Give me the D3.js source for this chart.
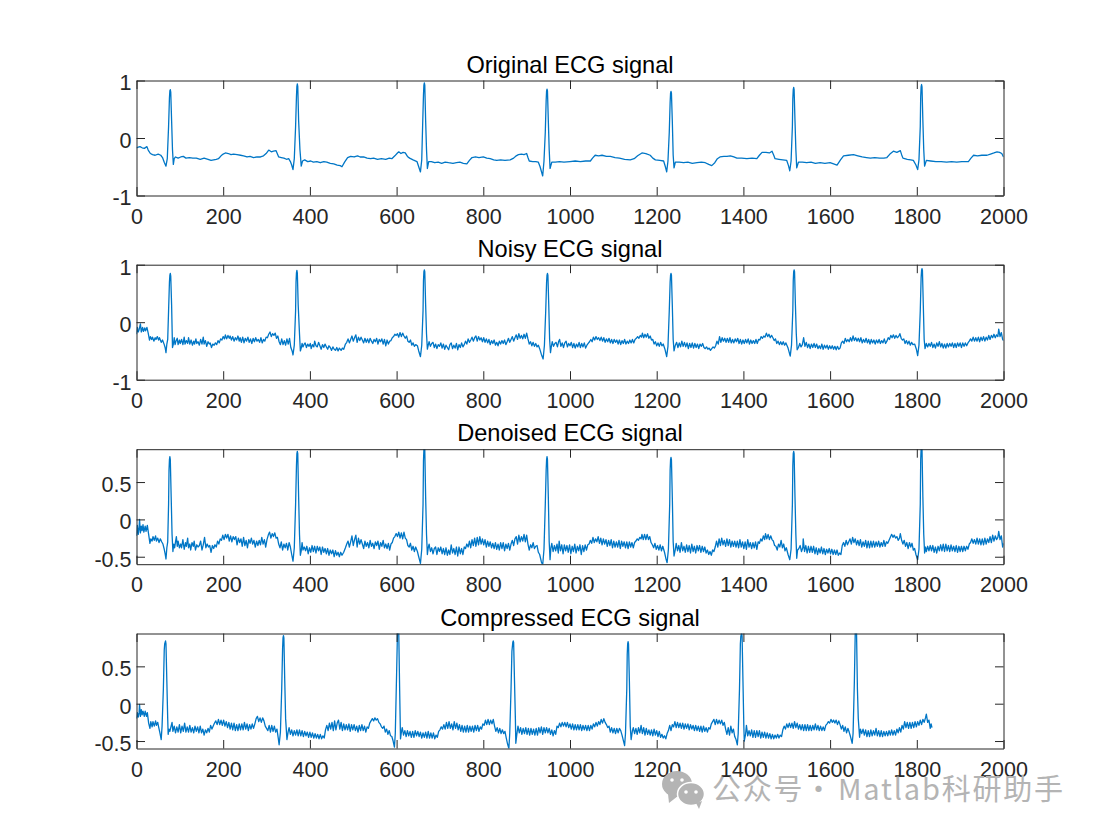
<!DOCTYPE html>
<html>
<head>
<meta charset="utf-8">
<script src="https://cdn.jsdelivr.net/npm/d3@7"></script>
<style>
  html, body { margin: 0; padding: 0; background: #fff; }
  svg { display: block; }
  text { font-family: "Liberation Sans", Arial, sans-serif; }
</style>
</head>
<body>
<div id="app"></div>
<script>
// x ticks are the same on all four panels
const xTicks = [0, 200, 400, 600, 800, 1000, 1200, 1400, 1600, 1800, 2000];
const yTicksWide = [-1, 0, 1];
const yTicksNarrow = [-0.5, 0, 0.5];
const titles = ['Original ECG signal', 'Noisy ECG signal', 'Denoised ECG signal', 'Compressed ECG signal'];

// [sample, amplitude] pairs
const original = [[0,-.17],[4,-.16],[8,-.15],[13,-.17],[18,-.18],[24,-.15],[27,-.21],[32,-.27],[37,-.29],[43,-.3],[50,-.28],[56,-.3],[60,-.34],[64,-.42],[68,-.49],[71,-.36],[74,.2],[76,.7],[77,.82],[78,.84],[79,.8],[81,.3],[83,-.2],[85,-.46],[87,-.36],[90,-.33],[96,-.35],[102,-.33],[108,-.32],[114,-.35],[122,-.34],[130,-.35],[138,-.35],[147,-.37],[156,-.35],[165,-.37],[172,-.39],[178,-.38],[184,-.37],[189,-.36],[195,-.31],[200,-.28],[205,-.26],[212,-.27],[218,-.29],[224,-.28],[232,-.29],[240,-.3],[247,-.31],[255,-.33],[262,-.32],[270,-.34],[278,-.33],[286,-.33],[293,-.31],[299,-.27],[305,-.21],[311,-.24],[316,-.23],[322,-.22],[328,-.33],[334,-.34],[340,-.35],[346,-.37],[351,-.36],[355,-.41],[358,-.47],[361,-.55],[364,-.36],[367,.2],[369,.72],[370,.9],[371,.94],[372,.9],[374,.3],[377,-.2],[380,-.49],[383,-.4],[388,-.38],[395,-.41],[402,-.4],[408,-.42],[416,-.41],[424,-.43],[432,-.41],[439,-.42],[447,-.44],[455,-.45],[463,-.47],[470,-.48],[474,-.5],[480,-.42],[487,-.34],[494,-.32],[502,-.33],[510,-.31],[516,-.33],[524,-.33],[532,-.35],[540,-.36],[547,-.35],[556,-.37],[565,-.36],[575,-.37],[583,-.35],[589,-.36],[596,-.31],[602,-.26],[605,-.24],[610,-.27],[615,-.25],[620,-.26],[625,-.32],[630,-.35],[638,-.38],[647,-.41],[651,-.5],[655,-.59],[658,-.38],[660,.2],[662,.75],[663,.92],[664,.96],[665,.92],[667,.3],[669,-.2],[671,-.53],[674,-.41],[680,-.41],[688,-.43],[696,-.42],[704,-.44],[712,-.42],[720,-.43],[730,-.44],[738,-.43],[746,-.42],[754,-.44],[762,-.45],[768,-.39],[774,-.34],[782,-.33],[790,-.34],[800,-.33],[808,-.35],[816,-.36],[824,-.38],[831,-.39],[840,-.38],[850,-.39],[862,-.38],[870,-.35],[876,-.31],[881,-.29],[888,-.28],[894,-.29],[900,-.27],[903,-.34],[906,-.4],[914,-.41],[921,-.41],[927,-.42],[931,-.5],[937,-.66],[940,-.4],[943,.1],[945,.65],[946,.82],[947,.85],[948,.82],[950,.3],[952,-.2],[954,-.53],[958,-.42],[966,-.42],[976,-.41],[986,-.42],[1000,-.41],[1012,-.4],[1024,-.41],[1036,-.4],[1047,-.4],[1052,-.35],[1058,-.3],[1066,-.31],[1074,-.3],[1084,-.32],[1093,-.32],[1104,-.34],[1114,-.35],[1126,-.37],[1139,-.38],[1148,-.36],[1156,-.31],[1166,-.26],[1175,-.27],[1185,-.3],[1191,-.35],[1197,-.38],[1207,-.39],[1216,-.4],[1220,-.5],[1223,-.59],[1226,-.4],[1229,.1],[1231,.62],[1232,.78],[1233,.81],[1234,.78],[1236,.3],[1238,-.3],[1240,-.52],[1243,-.42],[1252,-.42],[1262,-.43],[1272,-.42],[1282,-.44],[1293,-.43],[1303,-.42],[1312,-.43],[1320,-.46],[1327,-.48],[1334,-.43],[1340,-.36],[1346,-.33],[1355,-.32],[1362,-.32],[1370,-.31],[1378,-.33],[1385,-.35],[1396,-.35],[1408,-.36],[1420,-.35],[1431,-.36],[1437,-.3],[1443,-.25],[1452,-.25],[1460,-.26],[1466,-.23],[1470,-.3],[1473,-.36],[1482,-.37],[1491,-.38],[1500,-.39],[1504,-.48],[1507,-.57],[1510,-.4],[1513,.2],[1514,.68],[1515,.84],[1516,.88],[1517,.84],[1519,.3],[1521,-.2],[1523,-.52],[1527,-.42],[1536,-.42],[1546,-.43],[1556,-.42],[1566,-.44],[1577,-.43],[1588,-.44],[1600,-.43],[1608,-.45],[1616,-.47],[1624,-.38],[1631,-.31],[1642,-.3],[1654,-.29],[1664,-.31],[1674,-.33],[1684,-.34],[1693,-.35],[1703,-.34],[1714,-.35],[1724,-.35],[1731,-.34],[1738,-.28],[1746,-.23],[1754,-.25],[1762,-.22],[1765,-.29],[1768,-.35],[1778,-.37],[1786,-.38],[1792,-.39],[1798,-.47],[1802,-.55],[1805,-.38],[1808,.2],[1809,.72],[1810,.89],[1811,.93],[1812,.89],[1814,.3],[1816,-.2],[1818,-.49],[1822,-.39],[1832,-.4],[1844,-.41],[1856,-.41],[1869,-.42],[1880,-.41],[1892,-.42],[1904,-.41],[1919,-.41],[1925,-.35],[1931,-.3],[1940,-.31],[1950,-.3],[1962,-.3],[1970,-.28],[1978,-.26],[1985,-.24],[1991,-.25],[1996,-.27],[2000,-.33]];

const noisy = [[0,-.21],[2,-.09],[4,-.17],[6,-.13],[9,-.03],[11,-.17],[14,-.09],[16,-.16],[19,-.1],[21,-.15],[24,-.09],[27,-.19],[30,-.31],[32,-.25],[35,-.3],[37,-.26],[40,-.33],[43,-.27],[45,-.3],[48,-.25],[51,-.31],[53,-.27],[57,-.35],[60,-.31],[64,-.39],[66,-.44],[68,-.53],[70,-.38],[72,-.3],[74,.2],[76,.7],[77,.82],[78,.85],[79,.8],[81,.3],[83,-.44],[85,-.38],[87,-.27],[89,-.39],[91,-.33],[94,-.28],[96,-.39],[99,-.31],[101,-.37],[104,-.3],[107,-.39],[110,-.26],[112,-.38],[115,-.32],[118,-.37],[120,-.27],[123,-.38],[126,-.31],[129,-.4],[132,-.33],[134,-.38],[137,-.29],[139,-.37],[142,-.34],[145,-.4],[148,-.3],[151,-.38],[154,-.26],[156,-.38],[159,-.32],[162,-.42],[165,-.34],[168,-.38],[170,-.36],[173,-.44],[176,-.38],[179,-.4],[182,-.36],[185,-.39],[188,-.32],[191,-.36],[194,-.29],[197,-.31],[200,-.25],[203,-.29],[205,-.22],[208,-.29],[211,-.23],[214,-.28],[216,-.24],[219,-.31],[222,-.25],[225,-.33],[228,-.27],[231,-.31],[234,-.24],[237,-.33],[239,-.27],[242,-.35],[245,-.26],[248,-.36],[251,-.28],[254,-.33],[257,-.26],[260,-.35],[263,-.29],[266,-.37],[269,-.28],[272,-.34],[275,-.27],[278,-.33],[281,-.3],[284,-.35],[287,-.27],[290,-.36],[293,-.3],[296,-.33],[299,-.26],[302,-.27],[305,-.21],[308,-.17],[311,-.25],[314,-.2],[317,-.23],[320,-.19],[323,-.28],[326,-.24],[329,-.34],[332,-.39],[335,-.29],[338,-.39],[341,-.32],[344,-.4],[347,-.29],[350,-.38],[353,-.28],[356,-.44],[359,-.5],[361,-.57],[364,-.4],[367,.2],[368,.7],[369,.86],[370,.9],[371,.86],[373,.3],[376,-.2],[378,-.5],[380,-.45],[382,-.37],[384,-.43],[387,-.38],[389,-.36],[392,-.44],[395,-.38],[398,-.42],[401,-.37],[403,-.46],[406,-.39],[409,-.43],[411,-.33],[414,-.41],[417,-.43],[420,-.35],[423,-.41],[426,-.47],[429,-.39],[432,-.44],[435,-.38],[438,-.43],[441,-.47],[444,-.41],[447,-.44],[450,-.49],[453,-.43],[456,-.47],[459,-.49],[462,-.44],[465,-.5],[468,-.45],[472,-.49],[475,-.45],[478,-.47],[482,-.38],[485,-.35],[488,-.29],[491,-.36],[494,-.3],[497,-.24],[500,-.33],[503,-.27],[506,-.22],[509,-.35],[512,-.26],[515,-.32],[518,-.26],[521,-.31],[524,-.36],[527,-.28],[530,-.35],[533,-.29],[536,-.36],[539,-.28],[542,-.33],[545,-.37],[548,-.3],[551,-.34],[554,-.28],[557,-.38],[560,-.3],[563,-.34],[566,-.29],[569,-.38],[572,-.3],[575,-.41],[578,-.31],[581,-.38],[584,-.33],[587,-.32],[590,-.27],[593,-.25],[596,-.21],[599,-.23],[602,-.2],[605,-.26],[608,-.18],[611,-.25],[614,-.19],[617,-.24],[620,-.28],[623,-.24],[626,-.33],[629,-.35],[632,-.31],[635,-.4],[638,-.36],[641,-.42],[644,-.39],[648,-.41],[651,-.5],[655,-.6],[658,-.4],[661,.2],[662,.72],[663,.88],[664,.91],[665,.88],[667,.3],[669,-.2],[671,-.47],[673,-.4],[675,-.34],[678,-.42],[681,-.37],[684,-.35],[687,-.44],[690,-.38],[693,-.46],[696,-.39],[699,-.42],[702,-.36],[705,-.45],[708,-.38],[711,-.47],[714,-.4],[717,-.44],[720,-.48],[723,-.39],[726,-.36],[729,-.46],[732,-.4],[735,-.45],[738,-.37],[741,-.48],[744,-.39],[747,-.44],[750,-.36],[753,-.43],[756,-.39],[759,-.33],[762,-.38],[765,-.29],[768,-.35],[771,-.31],[774,-.26],[777,-.33],[780,-.27],[783,-.24],[786,-.33],[789,-.25],[792,-.31],[795,-.27],[798,-.34],[801,-.27],[804,-.35],[807,-.29],[810,-.36],[813,-.3],[816,-.39],[819,-.32],[822,-.37],[825,-.31],[828,-.4],[831,-.35],[834,-.41],[837,-.33],[840,-.38],[843,-.32],[846,-.37],[849,-.31],[852,-.39],[855,-.34],[858,-.28],[861,-.35],[864,-.3],[867,-.25],[870,-.33],[873,-.27],[876,-.22],[879,-.3],[882,-.2],[885,-.28],[888,-.23],[891,-.29],[894,-.21],[897,-.28],[900,-.19],[903,-.29],[906,-.38],[909,-.34],[912,-.41],[915,-.35],[918,-.42],[921,-.37],[924,-.43],[927,-.4],[930,-.46],[934,-.56],[938,-.64],[941,-.4],[944,.2],[946,.7],[947,.82],[948,.85],[949,.82],[951,.3],[953,-.3],[955,-.53],[957,-.42],[959,-.34],[962,-.42],[965,-.37],[968,-.35],[971,-.43],[974,-.33],[976,-.3],[979,-.42],[982,-.36],[985,-.44],[988,-.36],[991,-.33],[994,-.43],[997,-.37],[1000,-.41],[1003,-.35],[1006,-.44],[1009,-.37],[1012,-.45],[1015,-.38],[1018,-.43],[1021,-.35],[1024,-.44],[1027,-.37],[1030,-.43],[1033,-.36],[1036,-.45],[1039,-.4],[1042,-.37],[1045,-.34],[1048,-.3],[1051,-.34],[1054,-.26],[1057,-.31],[1060,-.25],[1063,-.3],[1066,-.27],[1069,-.32],[1072,-.26],[1075,-.33],[1078,-.27],[1081,-.35],[1084,-.29],[1087,-.34],[1090,-.28],[1093,-.36],[1096,-.3],[1099,-.37],[1102,-.3],[1105,-.35],[1108,-.31],[1111,-.38],[1114,-.31],[1117,-.39],[1120,-.32],[1123,-.37],[1126,-.3],[1129,-.38],[1132,-.33],[1135,-.37],[1138,-.31],[1141,-.36],[1144,-.3],[1147,-.36],[1150,-.3],[1153,-.28],[1156,-.25],[1159,-.28],[1162,-.23],[1165,-.26],[1167,-.19],[1170,-.27],[1173,-.21],[1176,-.26],[1179,-.2],[1182,-.28],[1185,-.24],[1188,-.31],[1191,-.3],[1194,-.38],[1197,-.34],[1200,-.41],[1203,-.36],[1206,-.42],[1209,-.35],[1212,-.41],[1215,-.38],[1219,-.47],[1223,-.6],[1226,-.42],[1229,.2],[1231,.7],[1232,.82],[1233,.85],[1234,.82],[1236,.3],[1238,-.3],[1240,-.5],[1243,-.4],[1246,-.35],[1249,-.44],[1252,-.36],[1255,-.43],[1258,-.33],[1261,-.42],[1264,-.35],[1267,-.43],[1270,-.36],[1273,-.46],[1276,-.37],[1279,-.44],[1282,-.36],[1285,-.45],[1288,-.37],[1291,-.44],[1294,-.38],[1297,-.46],[1300,-.38],[1303,-.42],[1306,-.37],[1309,-.44],[1312,-.46],[1315,-.43],[1318,-.47],[1321,-.45],[1324,-.49],[1327,-.46],[1330,-.43],[1333,-.45],[1336,-.41],[1339,-.33],[1342,-.38],[1345,-.25],[1348,-.35],[1351,-.27],[1354,-.33],[1357,-.28],[1360,-.35],[1363,-.28],[1366,-.35],[1369,-.27],[1372,-.36],[1375,-.3],[1378,-.36],[1381,-.29],[1384,-.34],[1387,-.28],[1390,-.37],[1393,-.3],[1396,-.38],[1399,-.31],[1402,-.37],[1405,-.3],[1408,-.36],[1411,-.29],[1414,-.38],[1417,-.31],[1420,-.37],[1423,-.32],[1426,-.37],[1429,-.3],[1432,-.37],[1435,-.3],[1438,-.31],[1441,-.25],[1444,-.28],[1447,-.24],[1450,-.26],[1453,-.19],[1456,-.25],[1459,-.21],[1462,-.27],[1465,-.23],[1468,-.27],[1471,-.32],[1474,-.29],[1477,-.37],[1480,-.33],[1483,-.39],[1486,-.34],[1489,-.39],[1492,-.34],[1495,-.4],[1498,-.36],[1503,-.45],[1508,-.59],[1511,-.4],[1514,.2],[1515,.72],[1516,.88],[1517,.91],[1518,.88],[1520,.3],[1522,-.2],[1524,-.48],[1527,-.44],[1530,-.37],[1533,-.43],[1536,-.39],[1539,-.27],[1542,-.42],[1545,-.35],[1548,-.44],[1551,-.38],[1554,-.46],[1557,-.38],[1560,-.44],[1563,-.37],[1566,-.44],[1569,-.38],[1572,-.46],[1575,-.41],[1578,-.46],[1581,-.38],[1584,-.47],[1587,-.4],[1590,-.45],[1593,-.4],[1596,-.47],[1599,-.41],[1602,-.46],[1605,-.41],[1608,-.47],[1611,-.42],[1614,-.48],[1617,-.42],[1620,-.47],[1623,-.45],[1626,-.36],[1629,-.33],[1632,-.37],[1635,-.28],[1638,-.34],[1641,-.3],[1644,-.34],[1647,-.27],[1650,-.33],[1653,-.24],[1656,-.32],[1659,-.27],[1662,-.33],[1665,-.28],[1668,-.34],[1671,-.27],[1674,-.36],[1677,-.3],[1680,-.35],[1683,-.28],[1686,-.36],[1689,-.3],[1692,-.38],[1695,-.3],[1698,-.36],[1701,-.31],[1704,-.38],[1707,-.31],[1710,-.36],[1713,-.3],[1716,-.37],[1719,-.32],[1722,-.36],[1725,-.29],[1728,-.37],[1731,-.33],[1734,-.27],[1737,-.3],[1740,-.23],[1743,-.27],[1746,-.22],[1749,-.28],[1752,-.23],[1755,-.27],[1758,-.25],[1761,-.2],[1764,-.28],[1767,-.31],[1770,-.29],[1773,-.37],[1776,-.32],[1779,-.38],[1782,-.33],[1785,-.4],[1788,-.35],[1791,-.39],[1795,-.38],[1799,-.47],[1802,-.58],[1805,-.4],[1808,.2],[1810,.78],[1811,.9],[1812,.93],[1813,.9],[1815,.3],[1817,-.3],[1819,-.46],[1822,-.37],[1825,-.43],[1828,-.37],[1831,-.42],[1834,-.35],[1837,-.44],[1840,-.38],[1843,-.45],[1846,-.36],[1849,-.42],[1852,-.34],[1855,-.43],[1858,-.37],[1861,-.45],[1864,-.38],[1867,-.45],[1870,-.37],[1873,-.43],[1876,-.37],[1879,-.42],[1882,-.36],[1885,-.44],[1888,-.37],[1891,-.44],[1894,-.36],[1897,-.42],[1900,-.36],[1903,-.44],[1906,-.36],[1909,-.42],[1912,-.36],[1915,-.41],[1918,-.36],[1921,-.33],[1924,-.29],[1927,-.33],[1930,-.26],[1933,-.33],[1936,-.27],[1939,-.33],[1942,-.26],[1945,-.34],[1948,-.26],[1951,-.32],[1954,-.25],[1957,-.33],[1960,-.26],[1963,-.31],[1966,-.23],[1969,-.3],[1972,-.23],[1975,-.27],[1978,-.21],[1981,-.27],[1984,-.22],[1987,-.25],[1989,-.12],[1992,-.25],[1995,-.18],[1998,-.3],[2000,-.32]];

const denoised = [[0,-.22],[2,-.08],[4,-.2],[6,-.11],[7,0],[9,-.18],[11,-.09],[13,-.15],[15,-.07],[17,-.17],[20,-.09],[22,-.16],[25,-.08],[28,-.2],[31,-.32],[33,-.26],[36,-.29],[38,-.23],[41,-.28],[44,-.22],[46,-.29],[49,-.25],[52,-.31],[55,-.26],[58,-.3],[61,-.33],[64,-.4],[66,-.46],[68,-.53],[70,-.38],[72,-.3],[74,.2],[75,.66],[76,.8],[77,.84],[78,.8],[80,.3],[82,-.2],[84,-.43],[86,-.33],[88,-.38],[90,-.3],[92,-.23],[94,-.36],[96,-.29],[99,-.38],[102,-.33],[104,-.38],[107,-.27],[110,-.4],[113,-.31],[115,-.36],[118,-.25],[120,-.38],[123,-.33],[125,-.41],[128,-.31],[131,-.36],[133,-.29],[136,-.41],[139,-.34],[142,-.37],[145,-.35],[148,-.29],[151,-.41],[154,-.34],[157,-.24],[160,-.38],[163,-.33],[166,-.37],[169,-.35],[172,-.44],[175,-.35],[178,-.39],[181,-.34],[184,-.37],[187,-.29],[190,-.33],[193,-.26],[196,-.28],[199,-.21],[202,-.27],[205,-.2],[208,-.25],[211,-.2],[214,-.29],[217,-.22],[220,-.3],[223,-.23],[226,-.27],[229,-.23],[232,-.34],[235,-.25],[238,-.31],[241,-.26],[244,-.36],[247,-.24],[250,-.35],[253,-.28],[256,-.38],[259,-.27],[262,-.32],[265,-.25],[268,-.33],[271,-.28],[274,-.37],[277,-.29],[280,-.35],[283,-.28],[286,-.34],[289,-.24],[292,-.33],[295,-.27],[298,-.37],[301,-.27],[304,-.21],[307,-.17],[310,-.25],[313,-.19],[316,-.23],[319,-.18],[322,-.25],[325,-.24],[328,-.33],[331,-.38],[334,-.3],[337,-.41],[340,-.33],[343,-.38],[346,-.32],[349,-.41],[352,-.31],[355,-.37],[358,-.47],[361,-.56],[364,-.38],[367,.2],[369,.72],[370,.88],[371,.91],[372,.88],[374,.3],[376,-.2],[378,-.48],[380,-.42],[382,-.31],[384,-.41],[387,-.37],[390,-.42],[393,-.36],[396,-.46],[399,-.38],[402,-.44],[405,-.35],[408,-.43],[411,-.36],[414,-.45],[417,-.36],[420,-.42],[423,-.37],[426,-.47],[429,-.37],[432,-.44],[435,-.39],[438,-.46],[441,-.39],[444,-.48],[447,-.41],[450,-.46],[453,-.41],[456,-.5],[459,-.42],[462,-.48],[465,-.44],[468,-.5],[471,-.44],[474,-.48],[478,-.44],[482,-.38],[485,-.33],[488,-.29],[491,-.37],[494,-.3],[497,-.22],[500,-.35],[503,-.27],[506,-.21],[509,-.37],[512,-.25],[515,-.33],[518,-.27],[521,-.33],[524,-.39],[527,-.29],[530,-.36],[533,-.31],[536,-.38],[539,-.28],[542,-.36],[545,-.32],[548,-.39],[551,-.3],[554,-.35],[557,-.29],[560,-.4],[563,-.31],[566,-.36],[569,-.28],[572,-.38],[575,-.33],[578,-.39],[581,-.32],[584,-.41],[587,-.33],[590,-.31],[593,-.25],[596,-.23],[599,-.19],[602,-.23],[605,-.17],[608,-.25],[611,-.18],[614,-.26],[617,-.17],[620,-.25],[623,-.27],[626,-.35],[629,-.37],[632,-.32],[635,-.41],[638,-.36],[641,-.43],[644,-.37],[648,-.43],[651,-.5],[655,-.59],[658,-.4],[661,.2],[662,.78],[663,.94],[664,.98],[665,.94],[667,.3],[669,-.2],[671,-.47],[673,-.38],[675,-.33],[678,-.43],[681,-.38],[684,-.46],[687,-.39],[690,-.37],[693,-.47],[696,-.38],[699,-.43],[702,-.37],[705,-.46],[708,-.39],[711,-.47],[714,-.38],[717,-.48],[720,-.41],[723,-.47],[726,-.34],[729,-.45],[732,-.39],[735,-.47],[738,-.37],[741,-.49],[744,-.37],[747,-.46],[750,-.39],[753,-.47],[756,-.37],[759,-.39],[762,-.33],[765,-.37],[768,-.29],[771,-.38],[774,-.27],[777,-.35],[780,-.25],[783,-.36],[786,-.24],[789,-.34],[792,-.23],[795,-.33],[798,-.26],[801,-.34],[804,-.27],[807,-.37],[810,-.29],[813,-.36],[816,-.3],[819,-.38],[822,-.32],[825,-.39],[828,-.31],[831,-.4],[834,-.33],[837,-.41],[840,-.31],[843,-.39],[846,-.31],[849,-.42],[852,-.33],[855,-.39],[858,-.32],[861,-.41],[864,-.33],[867,-.28],[870,-.35],[873,-.26],[876,-.23],[879,-.33],[882,-.21],[885,-.3],[888,-.23],[891,-.29],[894,-.2],[897,-.3],[900,-.21],[903,-.33],[906,-.41],[909,-.34],[912,-.38],[915,-.31],[918,-.39],[921,-.36],[924,-.35],[927,-.44],[930,-.47],[934,-.57],[937,-.61],[940,-.4],[943,.2],[945,.66],[946,.8],[947,.84],[948,.8],[950,.3],[952,-.3],[954,-.54],[956,-.38],[958,-.32],[961,-.43],[964,-.35],[967,-.42],[970,-.33],[973,-.45],[975,-.29],[978,-.42],[981,-.34],[984,-.46],[987,-.34],[990,-.42],[993,-.35],[996,-.44],[999,-.34],[1002,-.46],[1005,-.36],[1008,-.43],[1011,-.33],[1014,-.45],[1017,-.36],[1020,-.42],[1023,-.34],[1026,-.47],[1029,-.35],[1032,-.43],[1035,-.34],[1038,-.41],[1041,-.34],[1044,-.33],[1047,-.28],[1050,-.32],[1053,-.24],[1056,-.31],[1059,-.26],[1062,-.3],[1065,-.23],[1068,-.32],[1071,-.25],[1074,-.34],[1077,-.26],[1080,-.33],[1083,-.27],[1086,-.36],[1089,-.28],[1092,-.35],[1095,-.27],[1098,-.38],[1101,-.29],[1104,-.37],[1107,-.3],[1110,-.37],[1113,-.28],[1116,-.39],[1119,-.29],[1122,-.36],[1125,-.3],[1128,-.38],[1131,-.3],[1134,-.39],[1137,-.3],[1140,-.37],[1143,-.31],[1146,-.38],[1149,-.31],[1152,-.29],[1155,-.26],[1158,-.28],[1161,-.24],[1164,-.26],[1166,-.2],[1169,-.27],[1172,-.2],[1175,-.27],[1178,-.2],[1181,-.27],[1184,-.23],[1187,-.31],[1190,-.34],[1193,-.38],[1196,-.32],[1199,-.4],[1202,-.35],[1205,-.41],[1208,-.34],[1211,-.42],[1214,-.36],[1218,-.44],[1221,-.52],[1224,-.58],[1227,-.4],[1230,.2],[1231,.66],[1232,.8],[1233,.83],[1234,.8],[1236,.3],[1238,-.3],[1240,-.49],[1243,-.4],[1245,-.32],[1248,-.42],[1251,-.35],[1254,-.44],[1257,-.31],[1260,-.42],[1263,-.36],[1266,-.44],[1269,-.34],[1272,-.43],[1275,-.35],[1278,-.45],[1281,-.33],[1284,-.43],[1287,-.36],[1290,-.45],[1293,-.35],[1296,-.42],[1299,-.35],[1302,-.44],[1305,-.36],[1308,-.43],[1311,-.37],[1314,-.45],[1317,-.41],[1320,-.47],[1323,-.43],[1326,-.48],[1329,-.41],[1332,-.43],[1335,-.37],[1338,-.29],[1341,-.37],[1344,-.26],[1347,-.35],[1350,-.25],[1353,-.34],[1356,-.28],[1359,-.36],[1362,-.26],[1365,-.35],[1368,-.27],[1371,-.37],[1374,-.29],[1377,-.36],[1380,-.29],[1383,-.37],[1386,-.29],[1389,-.38],[1392,-.27],[1395,-.37],[1398,-.3],[1401,-.39],[1404,-.3],[1407,-.4],[1410,-.27],[1413,-.37],[1416,-.31],[1419,-.39],[1422,-.31],[1425,-.38],[1428,-.3],[1431,-.4],[1434,-.3],[1437,-.32],[1440,-.26],[1443,-.29],[1446,-.22],[1449,-.27],[1451,-.19],[1454,-.26],[1457,-.2],[1460,-.27],[1463,-.22],[1466,-.27],[1469,-.29],[1472,-.35],[1475,-.36],[1478,-.41],[1481,-.33],[1484,-.37],[1487,-.28],[1490,-.38],[1493,-.33],[1496,-.42],[1499,-.38],[1503,-.47],[1507,-.54],[1510,-.4],[1513,.2],[1514,.72],[1515,.88],[1516,.91],[1517,.88],[1519,.3],[1521,-.2],[1523,-.52],[1525,-.41],[1528,-.39],[1531,-.35],[1534,-.43],[1537,-.38],[1538,-.26],[1541,-.43],[1544,-.35],[1547,-.45],[1550,-.36],[1553,-.44],[1556,-.36],[1559,-.44],[1562,-.36],[1565,-.46],[1568,-.38],[1571,-.47],[1574,-.39],[1577,-.45],[1580,-.37],[1583,-.46],[1586,-.39],[1589,-.47],[1592,-.4],[1595,-.45],[1598,-.39],[1601,-.46],[1604,-.4],[1607,-.47],[1610,-.41],[1613,-.47],[1616,-.41],[1619,-.48],[1622,-.45],[1625,-.47],[1628,-.35],[1631,-.31],[1634,-.36],[1637,-.28],[1640,-.34],[1643,-.3],[1646,-.26],[1649,-.33],[1652,-.24],[1655,-.31],[1658,-.26],[1661,-.34],[1664,-.28],[1667,-.35],[1670,-.27],[1673,-.37],[1676,-.3],[1679,-.36],[1682,-.28],[1685,-.38],[1688,-.29],[1691,-.38],[1694,-.29],[1697,-.37],[1700,-.29],[1703,-.37],[1706,-.3],[1709,-.36],[1712,-.29],[1715,-.37],[1718,-.31],[1721,-.36],[1724,-.28],[1727,-.36],[1730,-.3],[1733,-.32],[1736,-.28],[1739,-.24],[1742,-.2],[1745,-.24],[1748,-.21],[1751,-.25],[1754,-.23],[1757,-.28],[1760,-.25],[1762,-.19],[1765,-.28],[1768,-.33],[1771,-.28],[1774,-.36],[1777,-.31],[1780,-.39],[1783,-.31],[1786,-.37],[1789,-.32],[1792,-.41],[1795,-.39],[1798,-.47],[1802,-.54],[1805,-.4],[1808,.2],[1809,.8],[1810,.95],[1811,.99],[1812,.95],[1814,.3],[1816,-.2],[1818,-.45],[1820,-.37],[1822,-.43],[1825,-.36],[1828,-.42],[1831,-.35],[1834,-.42],[1837,-.35],[1840,-.44],[1843,-.37],[1846,-.45],[1849,-.36],[1852,-.42],[1855,-.34],[1858,-.42],[1861,-.33],[1864,-.43],[1867,-.33],[1870,-.42],[1873,-.35],[1876,-.43],[1879,-.34],[1882,-.42],[1885,-.36],[1888,-.43],[1891,-.35],[1894,-.44],[1897,-.36],[1900,-.43],[1903,-.36],[1906,-.43],[1909,-.36],[1912,-.42],[1915,-.36],[1918,-.4],[1921,-.33],[1924,-.31],[1927,-.26],[1930,-.32],[1933,-.27],[1936,-.33],[1939,-.25],[1942,-.33],[1945,-.26],[1948,-.34],[1951,-.26],[1954,-.34],[1957,-.25],[1960,-.33],[1963,-.26],[1966,-.31],[1969,-.23],[1972,-.31],[1975,-.21],[1978,-.29],[1981,-.22],[1984,-.27],[1987,-.24],[1989,-.16],[1992,-.27],[1995,-.22],[1998,-.37],[2000,-.32]];

const compressed = [[0,-.2],[2,-.12],[4,-.18],[6,-.12],[7,-.01],[9,-.17],[11,-.08],[13,-.15],[15,-.1],[18,-.17],[20,-.1],[23,-.17],[25,-.12],[28,-.26],[31,-.33],[33,-.24],[36,-.31],[38,-.24],[41,-.3],[44,-.23],[46,-.29],[49,-.25],[51,-.31],[54,-.39],[57,-.48],[59,-.3],[62,.2],[64,.72],[65,.8],[67,.84],[68,.8],[70,.3],[72,-.2],[73,-.41],[75,-.34],[77,-.37],[79,-.32],[82,-.25],[84,-.37],[87,-.3],[90,-.39],[93,-.31],[96,-.38],[99,-.28],[102,-.39],[105,-.3],[108,-.37],[111,-.26],[114,-.38],[117,-.31],[120,-.38],[123,-.29],[126,-.38],[129,-.32],[132,-.39],[135,-.3],[138,-.37],[141,-.31],[144,-.39],[147,-.3],[150,-.39],[153,-.34],[156,-.42],[159,-.35],[162,-.39],[165,-.33],[168,-.38],[171,-.29],[174,-.34],[177,-.3],[180,-.26],[183,-.23],[186,-.28],[189,-.21],[192,-.28],[195,-.22],[198,-.29],[201,-.22],[204,-.3],[207,-.24],[210,-.32],[213,-.25],[216,-.34],[219,-.26],[222,-.35],[225,-.26],[228,-.36],[231,-.28],[234,-.36],[237,-.27],[240,-.35],[243,-.27],[246,-.35],[249,-.25],[252,-.34],[255,-.27],[258,-.36],[261,-.28],[264,-.34],[267,-.27],[270,-.33],[273,-.27],[276,-.2],[279,-.17],[282,-.24],[285,-.19],[288,-.25],[291,-.19],[294,-.23],[297,-.3],[300,-.33],[303,-.36],[306,-.29],[309,-.38],[312,-.29],[315,-.37],[318,-.3],[321,-.38],[324,-.34],[327,-.46],[329,-.55],[332,-.38],[335,.2],[337,.74],[338,.88],[339,.91],[340,.88],[342,.3],[344,-.2],[347,-.48],[350,-.37],[352,-.32],[355,-.41],[358,-.35],[361,-.43],[364,-.36],[367,-.42],[370,-.35],[373,-.43],[376,-.35],[379,-.43],[382,-.36],[385,-.44],[388,-.37],[391,-.43],[394,-.38],[397,-.45],[400,-.38],[403,-.45],[406,-.39],[409,-.46],[412,-.4],[415,-.46],[418,-.41],[421,-.47],[424,-.41],[427,-.47],[430,-.43],[433,-.46],[436,-.35],[439,-.29],[442,-.36],[445,-.26],[448,-.34],[451,-.25],[454,-.36],[457,-.23],[460,-.35],[463,-.26],[466,-.22],[469,-.34],[472,-.25],[475,-.36],[478,-.27],[481,-.35],[484,-.28],[487,-.35],[490,-.27],[493,-.37],[496,-.28],[499,-.35],[502,-.28],[505,-.36],[508,-.3],[511,-.38],[514,-.29],[517,-.36],[520,-.28],[523,-.36],[526,-.3],[529,-.38],[532,-.31],[535,-.33],[538,-.26],[541,-.23],[544,-.2],[547,-.23],[550,-.19],[553,-.22],[556,-.2],[559,-.25],[562,-.27],[565,-.31],[568,-.33],[571,-.3],[574,-.38],[577,-.34],[580,-.41],[583,-.36],[586,-.43],[589,-.44],[592,-.5],[595,-.58],[597,-.4],[600,.4],[602,.95],[604,1.02],[605,.95],[607,.2],[609,-.47],[611,-.38],[613,-.32],[616,-.42],[619,-.36],[622,-.44],[625,-.36],[628,-.43],[631,-.37],[634,-.45],[637,-.37],[640,-.45],[643,-.36],[646,-.43],[649,-.37],[652,-.44],[655,-.38],[658,-.46],[661,-.39],[664,-.45],[667,-.38],[670,-.46],[673,-.37],[676,-.46],[679,-.39],[682,-.46],[685,-.39],[688,-.47],[691,-.42],[694,-.45],[697,-.37],[700,-.35],[703,-.31],[706,-.34],[709,-.28],[712,-.34],[715,-.25],[718,-.33],[721,-.24],[724,-.33],[727,-.27],[730,-.35],[733,-.24],[736,-.33],[739,-.26],[742,-.35],[745,-.28],[748,-.37],[751,-.29],[754,-.38],[757,-.3],[760,-.38],[763,-.29],[766,-.38],[769,-.3],[772,-.37],[775,-.3],[778,-.38],[781,-.29],[784,-.36],[787,-.29],[790,-.37],[793,-.31],[796,-.34],[799,-.27],[802,-.29],[805,-.22],[808,-.28],[811,-.21],[814,-.28],[817,-.22],[820,-.27],[823,-.21],[826,-.3],[829,-.37],[832,-.32],[835,-.39],[838,-.33],[841,-.4],[844,-.35],[847,-.4],[850,-.37],[853,-.46],[856,-.54],[859,-.6],[861,-.4],[864,.2],[866,.7],[868,.82],[869,.84],[870,.82],[872,.3],[874,-.2],[875,-.53],[878,-.38],[880,-.3],[883,-.39],[886,-.32],[889,-.41],[892,-.33],[895,-.4],[898,-.32],[901,-.41],[904,-.33],[907,-.42],[910,-.33],[913,-.41],[916,-.34],[919,-.42],[922,-.33],[925,-.42],[928,-.32],[931,-.39],[934,-.31],[937,-.41],[940,-.32],[943,-.39],[946,-.32],[949,-.39],[952,-.33],[955,-.41],[958,-.35],[961,-.43],[964,-.36],[967,-.41],[970,-.3],[973,-.32],[976,-.26],[979,-.31],[982,-.25],[985,-.3],[988,-.25],[991,-.31],[994,-.25],[997,-.32],[1000,-.27],[1003,-.34],[1006,-.27],[1009,-.35],[1012,-.28],[1015,-.35],[1018,-.28],[1021,-.35],[1024,-.28],[1027,-.36],[1030,-.29],[1033,-.35],[1036,-.29],[1039,-.36],[1042,-.29],[1045,-.36],[1048,-.29],[1051,-.34],[1054,-.27],[1057,-.31],[1060,-.25],[1063,-.3],[1066,-.24],[1069,-.28],[1072,-.21],[1075,-.26],[1078,-.2],[1081,-.25],[1084,-.28],[1087,-.32],[1090,-.3],[1093,-.38],[1096,-.32],[1099,-.39],[1102,-.33],[1105,-.4],[1108,-.33],[1111,-.39],[1114,-.33],[1117,-.36],[1120,-.42],[1123,-.49],[1126,-.56],[1128,-.4],[1131,.2],[1132,.66],[1133,.8],[1134,.83],[1135,.8],[1137,.3],[1139,-.3],[1141,-.48],[1144,-.36],[1146,-.32],[1149,-.4],[1152,-.33],[1155,-.41],[1158,-.32],[1161,-.39],[1164,-.29],[1167,-.4],[1170,-.32],[1173,-.42],[1176,-.33],[1179,-.41],[1182,-.35],[1185,-.42],[1188,-.35],[1191,-.43],[1194,-.34],[1197,-.42],[1200,-.36],[1203,-.44],[1206,-.37],[1209,-.45],[1212,-.41],[1215,-.46],[1218,-.43],[1221,-.47],[1224,-.4],[1227,-.36],[1230,-.29],[1233,-.36],[1236,-.28],[1239,-.31],[1242,-.24],[1245,-.32],[1248,-.25],[1251,-.32],[1254,-.26],[1257,-.33],[1260,-.26],[1263,-.34],[1266,-.27],[1269,-.33],[1272,-.27],[1275,-.35],[1278,-.28],[1281,-.34],[1284,-.29],[1287,-.36],[1290,-.29],[1293,-.36],[1296,-.3],[1299,-.37],[1302,-.3],[1305,-.38],[1308,-.3],[1311,-.37],[1314,-.32],[1317,-.38],[1320,-.32],[1323,-.34],[1326,-.27],[1329,-.24],[1332,-.21],[1335,-.28],[1338,-.21],[1341,-.27],[1344,-.22],[1347,-.27],[1350,-.22],[1353,-.29],[1356,-.25],[1359,-.34],[1362,-.41],[1365,-.32],[1368,-.42],[1371,-.3],[1374,-.39],[1377,-.34],[1380,-.44],[1383,-.48],[1386,-.55],[1388,-.4],[1391,.2],[1393,.8],[1394,.9],[1396,.95],[1397,.9],[1399,.3],[1401,-.3],[1402,-.5],[1405,-.41],[1407,-.29],[1410,-.43],[1413,-.36],[1416,-.43],[1419,-.35],[1422,-.45],[1425,-.36],[1428,-.45],[1431,-.36],[1434,-.44],[1437,-.36],[1440,-.46],[1443,-.38],[1446,-.45],[1449,-.38],[1452,-.46],[1455,-.39],[1458,-.46],[1461,-.4],[1464,-.47],[1467,-.41],[1470,-.47],[1473,-.42],[1476,-.46],[1479,-.41],[1482,-.46],[1485,-.42],[1488,-.44],[1491,-.35],[1494,-.3],[1497,-.34],[1500,-.27],[1503,-.32],[1506,-.26],[1509,-.32],[1512,-.26],[1515,-.33],[1518,-.24],[1521,-.32],[1524,-.26],[1527,-.34],[1530,-.28],[1533,-.35],[1536,-.28],[1539,-.36],[1542,-.28],[1545,-.36],[1548,-.28],[1551,-.36],[1554,-.29],[1557,-.36],[1560,-.29],[1563,-.35],[1566,-.27],[1569,-.35],[1572,-.29],[1575,-.36],[1578,-.3],[1581,-.36],[1584,-.31],[1587,-.36],[1590,-.29],[1593,-.27],[1596,-.24],[1599,-.26],[1602,-.21],[1605,-.25],[1608,-.22],[1611,-.26],[1614,-.22],[1617,-.28],[1620,-.23],[1623,-.28],[1626,-.34],[1629,-.29],[1632,-.37],[1635,-.31],[1638,-.39],[1641,-.33],[1644,-.38],[1647,-.44],[1651,-.53],[1653,-.4],[1656,.3],[1658,.95],[1660,1.03],[1661,.95],[1663,.2],[1665,-.2],[1668,-.45],[1670,-.34],[1673,-.4],[1676,-.34],[1679,-.42],[1682,-.35],[1685,-.44],[1688,-.36],[1691,-.44],[1694,-.35],[1697,-.43],[1700,-.36],[1703,-.42],[1706,-.33],[1709,-.43],[1712,-.36],[1715,-.44],[1718,-.36],[1721,-.44],[1724,-.37],[1727,-.43],[1730,-.37],[1733,-.43],[1736,-.36],[1739,-.42],[1742,-.35],[1745,-.42],[1748,-.36],[1751,-.42],[1754,-.34],[1757,-.39],[1760,-.32],[1763,-.38],[1766,-.29],[1769,-.34],[1772,-.24],[1775,-.32],[1778,-.25],[1781,-.33],[1784,-.25],[1787,-.33],[1790,-.25],[1793,-.32],[1796,-.24],[1799,-.31],[1802,-.24],[1805,-.29],[1808,-.22],[1811,-.28],[1814,-.21],[1817,-.25],[1820,-.19],[1822,-.14],[1825,-.25],[1828,-.22],[1831,-.33],[1833,-.27],[1835,-.32]];

const lineColor = '#0076C6';
const axisColor = '#262626';

const width = 1100, height = 833;
const left = 136.5, right = 1003.5, panelH = 115;

const svg = d3.select('#app').append('svg')
    .attr('width', width)
    .attr('height', height);

// one entry per subplot, top of the box in px and its y range
const panels = [
    { title: titles[0], data: original, top: 80.5, yDomain: [-1, 1], yTicks: yTicksWide },
    { title: titles[1], data: noisy, top: 264.7, yDomain: [-1, 1], yTicks: yTicksWide },
    { title: titles[2], data: denoised, top: 449.2, yDomain: [-0.6, 0.94], yTicks: yTicksNarrow },
    { title: titles[3], data: compressed, top: 633.5, yDomain: [-0.6, 0.94], yTicks: yTicksNarrow }
];

const x = d3.scaleLinear().domain([0, 2000]).range([left, right]);

panels.forEach((p, i) => {
    const y = d3.scaleLinear().domain(p.yDomain).range([p.top + panelH, p.top]);
    const g = svg.append('g');

    // clip so the tall peaks stop at the box like matlab does
    svg.append('clipPath').attr('id', 'clip' + i)
        .append('rect')
        .attr('x', left).attr('y', p.top)
        .attr('width', right - left).attr('height', panelH);

    const line = d3.line().x(d => x(d[0])).y(d => y(d[1]));

    g.append('path')
        .datum(p.data)
        .attr('clip-path', 'url(#clip' + i + ')')
        .attr('fill', 'none')
        .attr('stroke', lineColor)
        .attr('stroke-width', 1.3)
        .attr('stroke-linejoin', 'round')
        .attr('d', line);

    const tickLen = 8.5;
    const xBottom = d3.axisBottom(x).tickValues(xTicks).tickFormat(d => String(d))
        .tickSizeInner(-tickLen).tickSizeOuter(0).tickPadding(13);
    const xTop = d3.axisTop(x).tickValues(xTicks).tickFormat('')
        .tickSizeInner(-tickLen).tickSizeOuter(0);
    const yLeft = d3.axisLeft(y).tickValues(p.yTicks).tickFormat(d => String(d))
        .tickSizeInner(-tickLen).tickSizeOuter(0).tickPadding(5);
    const yRight = d3.axisRight(y).tickValues(p.yTicks).tickFormat('')
        .tickSizeInner(-tickLen).tickSizeOuter(0);

    const ax = [
        g.append('g').attr('transform', `translate(0,${p.top + panelH})`).call(xBottom),
        g.append('g').attr('transform', `translate(0,${p.top})`).call(xTop),
        g.append('g').attr('transform', `translate(${left},0)`).call(yLeft),
        g.append('g').attr('transform', `translate(${right},0)`).call(yRight)
    ];
    ax.forEach(a => {
        a.selectAll('path,line').attr('stroke', axisColor).attr('stroke-width', 1);
        a.selectAll('text')
            .attr('fill', axisColor)
            .style('font-family', '"Liberation Sans", Arial, sans-serif')
            .style('font-size', '21.5px');
    });
    // y labels sit a little lower than the tick in the original
    ax[2].selectAll('text').attr('dy', '0.44em');

    g.append('text')
        .attr('x', (left + right) / 2)
        .attr('y', p.top - 8)
        .attr('text-anchor', 'middle')
        .attr('fill', '#000')
        .style('font-size', '23.6px')
        .text(p.title);
});

// watermark in the bottom right corner
const wm = svg.append('g').attr('fill', '#b4b4b4');
wm.append('ellipse').attr('cx', 677).attr('cy', 784).attr('rx', 15).attr('ry', 13);
wm.append('path').attr('d', 'M668 794 L669 803 L678 796 Z');
wm.append('ellipse').attr('cx', 691).attr('cy', 794).attr('rx', 13.5).attr('ry', 11.5).attr('stroke', '#fff').attr('stroke-width', 1.5);
wm.append('path').attr('d', 'M696 803 L699 809 L702 801 Z');
[[672, 780], [682, 780], [686, 792], [696, 792]].forEach(c => {
    wm.append('circle').attr('cx', c[0]).attr('cy', c[1]).attr('r', 1.8).attr('fill', '#fff');
});
const wmText = wm.append('text')
    .attr('y', 800)
    .style('font-family', '"Noto Sans CJK SC", "Noto Sans", sans-serif')
    .style('font-size', '29px')
    .style('letter-spacing', '1.8px');
wmText.append('tspan').attr('x', 712).text('公众号');
wmText.append('tspan').attr('x', 804).text('·');
wmText.append('tspan').attr('x', 838).text('Matlab科研助手');
</script>
</body>
</html>
